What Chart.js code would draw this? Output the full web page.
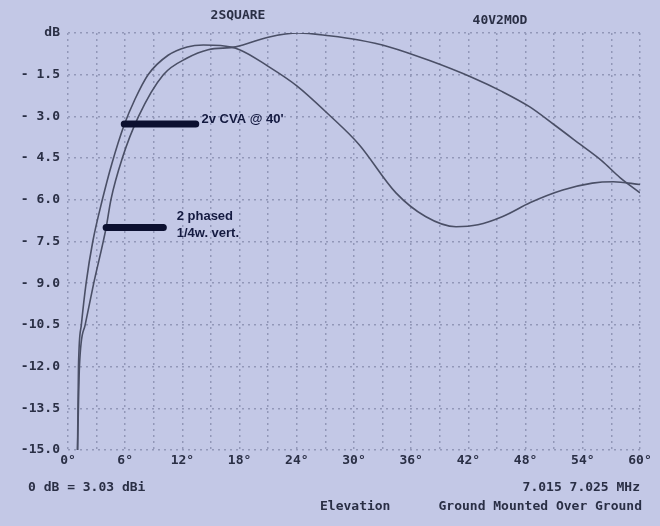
<!DOCTYPE html>
<html>
<head>
<meta charset="utf-8">
<script src="https://cdn.jsdelivr.net/npm/chart.js@4"></script>
<style>
  html, body { margin: 0; padding: 0; background: #c3c8e6; }
  #wrap { width: 660px; height: 526px; }
</style>
</head>
<body>
<div id="wrap"><canvas id="c" width="660" height="526"></canvas></div>
<script>
// elevation (deg) / relative gain (dB)
const cvaAngles = [1.0, 1.1, 1.4, 1.9, 2.6, 3.6, 4.6, 5.9, 7.0, 8.4, 10.5, 12.5, 14.2, 16.0, 18.0, 21.0, 24.0, 27.4, 30.5, 34.4, 37.5, 40.7, 43.0, 45.6, 48.5, 51.9, 55.0, 57.2, 60.0];
const cvaGain   = [-15.0, -12.0, -10.5, -9.0, -7.5, -6.0, -4.7, -3.3, -2.4, -1.5, -0.8, -0.5, -0.43, -0.45, -0.6, -1.2, -1.9, -2.95, -4.0, -5.75, -6.6, -6.97, -6.9, -6.6, -6.1, -5.65, -5.4, -5.35, -5.45];
const vertAngles = [1.0, 1.2, 1.8, 2.7, 4.0, 4.5, 5.7, 7.4, 10.0, 12.5, 14.7, 17.6, 21.0, 24.2, 27.4, 30.5, 33.7, 38.0, 42.4, 45.5, 48.4, 51.0, 53.7, 56.0, 57.9, 60.0];
const vertGain   = [-15.0, -12.0, -10.5, -9.0, -7.0, -6.0, -4.5, -3.0, -1.5, -0.9, -0.6, -0.5, -0.15, 0.0, -0.1, -0.25, -0.5, -1.0, -1.6, -2.1, -2.65, -3.3, -4.0, -4.6, -5.2, -5.75];
const yTicks = [0, -1.5, -3.0, -4.5, -6.0, -7.5, -9.0, -10.5, -12.0, -13.5, -15.0];

const ink = '#2a2f45';
const lineCol = '#4a4f66';
const mono = 'bold 13px "DejaVu Sans Mono", monospace';

const extras = {
    id: 'extras',
    afterDatasetsDraw(chart) {
        const { ctx, scales: { x, y } } = chart;
        ctx.save();
        // marker bars
        ctx.strokeStyle = '#0c1030';
        ctx.lineWidth = 7;
        ctx.lineCap = 'round';
        ctx.beginPath();
        ctx.moveTo(x.getPixelForValue(5.9), y.getPixelForValue(-3.27));
        ctx.lineTo(x.getPixelForValue(13.4), y.getPixelForValue(-3.27));
        ctx.moveTo(x.getPixelForValue(4.0), y.getPixelForValue(-7.0));
        ctx.lineTo(x.getPixelForValue(10.0), y.getPixelForValue(-7.0));
        ctx.stroke();
        ctx.fillStyle = '#141a40';
        ctx.font = 'bold 13px "Liberation Sans", Arial, sans-serif';
        ctx.textBaseline = 'middle';
        ctx.fillText("2v CVA @ 40'", x.getPixelForValue(14.0), y.getPixelForValue(-3.1));
        ctx.fillText('2 phased', x.getPixelForValue(11.4), y.getPixelForValue(-6.6));
        ctx.fillText('1/4w. vert.', x.getPixelForValue(11.4), y.getPixelForValue(-7.2));
        // titles and footer
        ctx.fillStyle = ink;
        ctx.font = mono;
        ctx.textAlign = 'center';
        ctx.fillText('2SQUARE', 238, 16);
        ctx.fillText('40V2MOD', 500, 21);
        ctx.textAlign = 'left';
        ctx.fillText('0 dB = 3.03 dBi', 28, 488);
        ctx.fillText('Elevation', 320, 507);
        ctx.textAlign = 'right';
        ctx.fillText('7.015 7.025 MHz', 640, 488);
        ctx.fillText('Ground Mounted Over Ground', 642, 507);
        ctx.restore();
    }
};

new Chart(document.getElementById('c'), {
    type: 'scatter',
    data: {
        datasets: [
            { label: '2v CVA', data: cvaAngles.map((a, i) => ({ x: a, y: cvaGain[i] })), showLine: true, cubicInterpolationMode: 'monotone', borderColor: lineCol, borderWidth: 1.6, pointRadius: 0 },
            { label: '2 phased', data: vertAngles.map((a, i) => ({ x: a, y: vertGain[i] })), showLine: true, cubicInterpolationMode: 'monotone', borderColor: lineCol, borderWidth: 1.6, pointRadius: 0 }
        ]
    },
    options: {
        responsive: false,
        animation: false,
        layout: { padding: { top: 33, right: 20, left: 0, bottom: 0 } },
        plugins: { legend: { display: false }, tooltip: { enabled: false } },
        scales: {
            x: {
                type: 'linear', min: 0, max: 60,
                afterFit: s => { s.height = 76; },
                border: { display: false, dash: [2, 4] },
                grid: { color: '#9297b8', lineWidth: 1.5, drawTicks: false },
                ticks: { stepSize: 3, autoSkip: false, maxRotation: 0, padding: 3, color: ink, font: { family: '"DejaVu Sans Mono", monospace', size: 13, weight: 'bold' },
                    callback: v => (v % 6 === 0 ? v + '°' : '') }
            },
            y: {
                min: -15, max: 0,
                afterFit: s => { s.width = 68; },
                afterBuildTicks: s => { s.ticks = yTicks.map(v => ({ value: v })); },
                border: { display: false, dash: [2, 4] },
                grid: { color: '#9297b8', lineWidth: 1.5, drawTicks: false },
                ticks: { padding: 8, color: ink, font: { family: '"DejaVu Sans Mono", monospace', size: 13, weight: 'bold' },
                    callback: v => (v === 0 ? 'dB' : (v > -10 ? '- ' + (-v).toFixed(1) : v.toFixed(1))) }
            }
        }
    },
    plugins: [extras]
});
</script>
</body>
</html>
